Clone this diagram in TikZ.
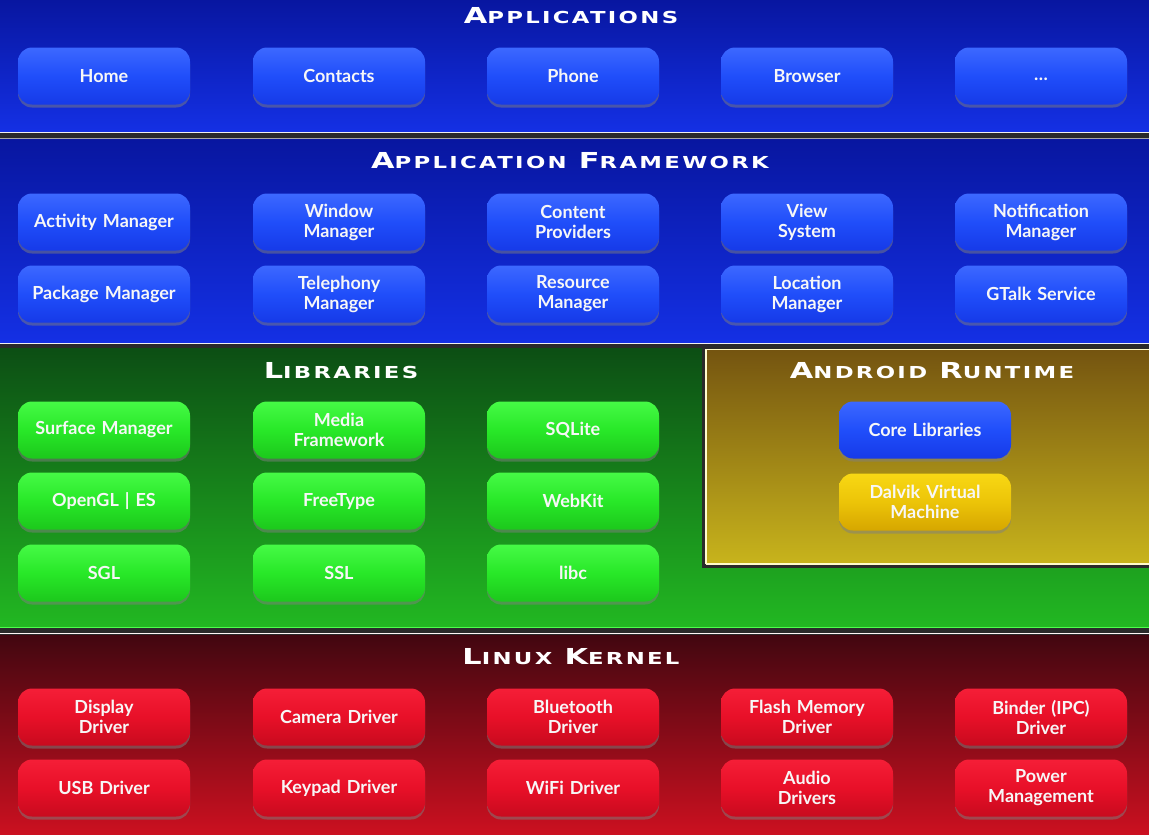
\documentclass[tikz,border=0pt]{standalone}
\usepackage{fontspec}
\setmainfont{Lato}
\newfontfamily\ttlfont[FakeStretch=1.38,LetterSpace=14]{DejaVu Sans}
\usetikzlibrary{shadows}
\newcommand\sct[2]{{\fontsize{22}{22}\selectfont #1}{\fontsize{16.5}{16.5}\selectfont #2}}
\definecolor{bandA}{HTML}{0816A0}
\definecolor{bandB}{HTML}{1430E4}
\definecolor{greenTop}{HTML}{0C4E14}
\definecolor{greenBot}{HTML}{22B822}
\definecolor{redTop}{HTML}{420710}
\definecolor{redBot}{HTML}{CC1020}
\definecolor{rtTop}{HTML}{745410}
\definecolor{rtBot}{HTML}{C8B41C}
\definecolor{sepDark}{HTML}{2A2A2A}
\tikzset{
  titletext/.style={text=white, font=\ttlfont\bfseries, inner sep=0pt},
  box/.style={rounded corners=14pt, minimum width=172pt, minimum height=57pt,
    text width=168pt, align=center, inner sep=0pt, text=white!94!gray,
    font=\fontsize{18}{20}\selectfont\bfseries,
    drop shadow={opacity=0.5, shadow xshift=0pt, shadow yshift=-3pt}},
  bluebox/.style={box, top color={rgb,255:red,60;green,104;blue,255}, bottom color={rgb,255:red,22;green,58;blue,232},
    middle color={rgb,255:red,32;green,78;blue,250}},
  greenbox/.style={box, top color={rgb,255:red,70;green,250;blue,70}, bottom color={rgb,255:red,28;green,200;blue,28},
    middle color={rgb,255:red,40;green,232;blue,40}},
  redbox/.style={box, top color={rgb,255:red,245;green,30;blue,55}, bottom color={rgb,255:red,200;green,10;blue,30},
    middle color={rgb,255:red,232;green,16;blue,40}},
  yellowbox/.style={box, top color={rgb,255:red,248;green,216;blue,20}, bottom color={rgb,255:red,214;green,166;blue,0},
    middle color={rgb,255:red,236;green,196;blue,8}},
  sepwhite/.style={draw=white!88!gray, line width=1.8pt},
}
\begin{document}
\begin{tikzpicture}[x=1pt,y=-1pt]
\useasboundingbox (0,0) rectangle (1149,835);
% background
\fill[sepDark] (0,0) rectangle (1149,835);
% bands
\shade[top color=bandA, bottom color=bandB] (0,0) rectangle (1149,131);
\shade[top color=bandA, bottom color=bandB] (0,139) rectangle (1149,342);
\shade[top color=greenTop, bottom color=greenBot] (0,348) rectangle (1149,627);
\shade[top color=redTop, bottom color=redBot] (0,635) rectangle (1149,835);
% separators
\draw[sepwhite] (0,132.5) -- (1149,132.5);
\draw[draw=gray!70, line width=1pt] (0,138) -- (1149,138);
\draw[sepwhite] (0,343.5) -- (1149,343.5);
\draw[draw=green!70!white, line width=1pt] (0,627.5) -- (1149,627.5);
\draw[draw=white!85!pink, line width=1.5pt] (0,633.5) -- (1149,633.5);
% android runtime frame
\fill[sepDark] (702,347) rectangle (1149,568);
\shade[top color=rtTop, bottom color=rtBot] (707,349) rectangle (1149,564);
\draw[draw=white!80!yellow, line width=1.2pt] (706,564) -- (706,349.5) -- (1149,349.5);
\draw[draw=white!80!yellow, line width=1.2pt] (706,564) -- (1149,564);
% titles
\node[titletext] (tApps) at (571,16) {\sct{A}{PPLICATIONS}};
\node[titletext] (tFw) at (570,161) {\sct{A}{PPLICATION}\hspace{6pt} \sct{F}{RAMEWORK}};
\node[titletext] (tLib) at (341,371) {\sct{L}{IBRARIES}};
\node[titletext] (tRt) at (932,371) {\sct{A}{NDROID}\hspace{6pt} \sct{R}{UNTIME}};
\node[titletext] (tLk) at (571,657) {\sct{L}{INUX}\hspace{6pt} \sct{K}{ERNEL}};
% applications
\node[bluebox] (home) at (104,76) {Home};
\node[bluebox] (contacts) at (339,76) {Contacts};
\node[bluebox] (phone) at (573,76) {Phone};
\node[bluebox] (browser) at (807,76) {Browser};
\node[bluebox] (more) at (1041,76) {\vphantom{Hg}.\kern0.5pt.\kern0.5pt.};
% framework
\node[bluebox] (actm) at (104,222) {Activity Manager};
\node[bluebox] (winm) at (339,222) {Window\\Manager};
\node[bluebox] (cont) at (573,222) {Content\\Providers};
\node[bluebox] (views) at (807,222) {View\\System};
\node[bluebox] (notm) at (1041,222) {Notification\\Manager};
\node[bluebox] (pkgm) at (104,294) {Package Manager};
\node[bluebox] (telm) at (339,294) {Telephony\\Manager};
\node[bluebox] (resm) at (573,294) {Resource\\Manager};
\node[bluebox] (locm) at (807,294) {Location\\Manager};
\node[bluebox] (gtalk) at (1041,294) {GTalk Service};
% libraries
\node[greenbox] (surf) at (104,430) {Surface Manager};
\node[greenbox] (media) at (339,430) {Media\\Framework};
\node[greenbox] (sqlite) at (573,430) {SQLite};
\node[greenbox] (opengl) at (104,501) {OpenGL | ES};
\node[greenbox] (freetype) at (339,501) {FreeType};
\node[greenbox] (webkit) at (573,501) {WebKit};
\node[greenbox] (sgl) at (104,573) {SGL};
\node[greenbox] (ssl) at (339,573) {SSL};
\node[greenbox] (libc) at (573,573) {libc};
% runtime
\node[bluebox] (core) at (925,430) {Core Libraries};
\node[yellowbox] (dalvik) at (925,502) {Dalvik Virtual\\Machine};
% kernel
\node[redbox] (disp) at (104,717) {Display\\Driver};
\node[redbox] (cam) at (339,717) {Camera Driver};
\node[redbox] (bt) at (573,717) {Bluetooth\\Driver};
\node[redbox] (flash) at (807,717) {Flash Memory\\Driver};
\node[redbox] (binder) at (1041,717) {Binder (IPC)\\Driver};
\node[redbox] (usb) at (104,788) {USB Driver};
\node[redbox] (key) at (339,788) {Keypad Driver};
\node[redbox] (wifi) at (573,788) {WiFi Driver};
\node[redbox] (audio) at (807,788) {Audio\\Drivers};
\node[redbox] (power) at (1041,788) {Power\\Management};
\end{tikzpicture}
\end{document}
